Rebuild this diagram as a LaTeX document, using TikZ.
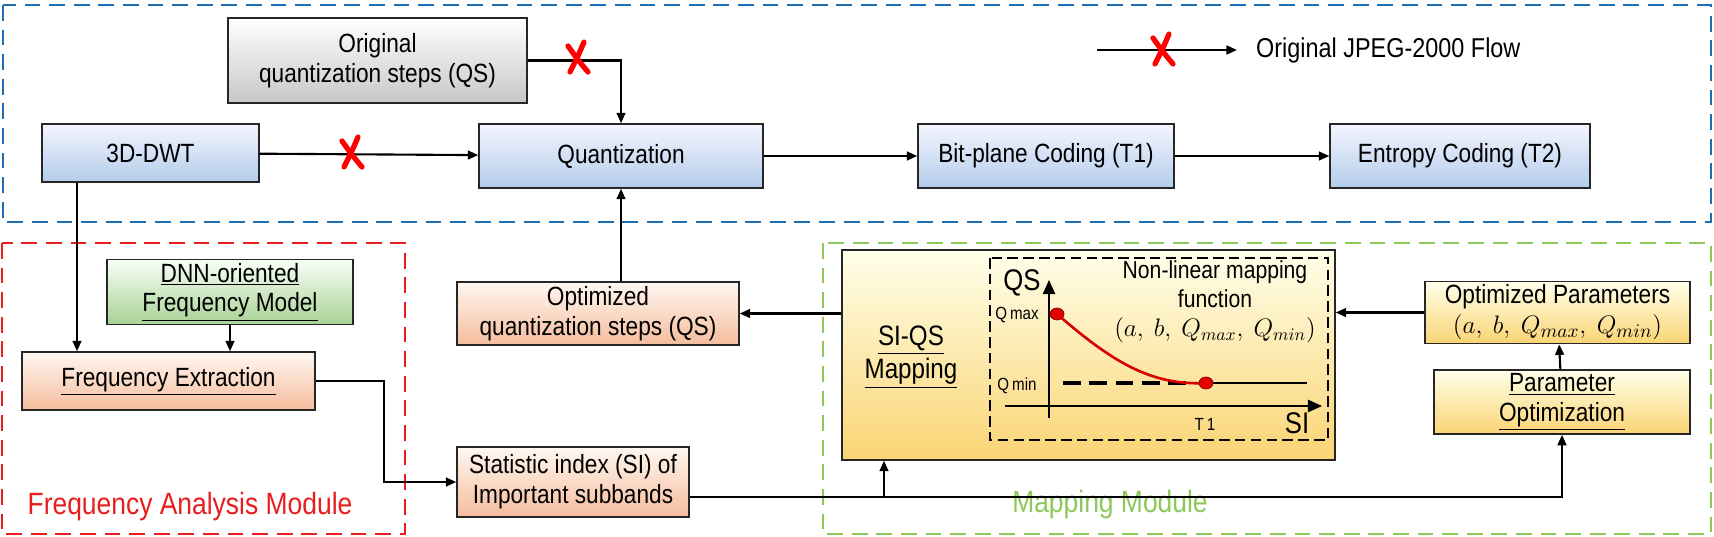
\documentclass[tikz,border=0pt]{standalone}
\usepackage{fontspec}
\setmainfont{Liberation Sans}[FakeStretch=0.86]
\usetikzlibrary{arrows.meta,calc}
\definecolor{bluebot}{RGB}{178,204,234}
\definecolor{orbot}{RGB}{245,188,158}
\definecolor{grbot}{RGB}{168,210,148}
\definecolor{yebot}{RGB}{250,212,115}
\definecolor{dblue}{RGB}{30,110,180}
\definecolor{dred}{RGB}{230,30,30}
\definecolor{dgreen}{RGB}{140,200,90}
\tikzset{
  box/.style={draw=black!85, line width=0.8pt, inner sep=2pt, align=center, font=\fontsize{15}{17}\selectfont},
  bl/.style={box, top color=blue!4, bottom color=bluebot},
  orr/.style={box, top color=orange!6, bottom color=orbot},
  gr/.style={box, top color=green!3, bottom color=grbot},
  ye/.style={box, top color=yellow!8, bottom color=yebot},
  gy/.style={box, top color=white, bottom color=black!22},
  con/.style={line width=1.2pt, -{Triangle[length=6pt,width=5pt]}},
  region/.style={dashed, line width=1.3pt, dash pattern=on 9pt off 5pt},
  xmark/.style={red, line width=3pt, line cap=round}
}
\newcommand{\xmk}[1]{\draw[xmark] ($#1+(-8,14)$) .. controls ($#1+(0,-2)$) .. ($#1+(6,-16)$);
  \draw[xmark] ($#1+(-10,-12)$) .. controls ($#1+(0,2)$) .. ($#1+(10,14)$);}
\begin{document}
\begin{tikzpicture}[x=0.02cm,y=-0.02cm]
\useasboundingbox (0,0) rectangle (1714,537);
% regions
\draw[region, dblue] (3,5) rectangle (1711,222);
\draw[region, dred] (2,243) rectangle (405,534);
\draw[region, dgreen] (823,243) rectangle (1711,534);
\node[dred, font=\fontsize{17.5}{20}\selectfont] (fam) at (190,507) {Frequency Analysis Module};
\node[dgreen, font=\fontsize{17.5}{20}\selectfont] (mm) at (1110,505) {Mapping Module};
% boxes
\node[gy, minimum width=5.98cm, minimum height=1.7cm] (oqs) at (377.5,60.5) {Original\\quantization steps (QS)};
\node[bl, minimum width=4.34cm, minimum height=1.16cm] (dwt) at (150.5,153) {3D-DWT};
\node[bl, minimum width=5.68cm, minimum height=1.28cm] (quant) at (621,156) {Quantization};
\node[bl, minimum width=5.12cm, minimum height=1.28cm] (bpc) at (1046,156) {Bit-plane Coding (T1)};
\node[bl, minimum width=5.2cm, minimum height=1.28cm] (ent) at (1460,156) {Entropy Coding (T2)};
\node[gr, minimum width=4.92cm, minimum height=1.2cm] (dnn) at (230,292) {\underline{DNN-oriented}\\\underline{Frequency Model}};
\node[orr, minimum width=5.86cm, minimum height=1.16cm] (fex) at (168.5,381) {\underline{Frequency Extraction}};
\node[orr, minimum width=5.64cm, minimum height=1.26cm] (oqs2) at (598,313.5) {Optimized\\quantization steps (QS)};
\node[orr, minimum width=4.64cm, minimum height=1.4cm] (stat) at (573,482) {Statistic index (SI) of\\Important subbands};
\node[ye, minimum width=9.86cm, minimum height=4.2cm] (siqs) at (1088.5,355) {};
\node[font=\fontsize{16}{19}\selectfont, align=center] (siqsl) at (911,357) {\underline{SI-QS}\\\underline{Mapping}};
\node[ye, minimum width=5.3cm, minimum height=1.22cm] (opar) at (1557.5,312.5) {Optimized Parameters\\$(a,\ b,\ Q_{max},\ Q_{min})$};
\node[ye, minimum width=5.12cm, minimum height=1.2cm] (popt) at (1562,402) {\underline{Parameter}\\\underline{Optimization}};
% inner graph
\draw[dashed, line width=1.5pt, dash pattern=on 6pt off 3pt] (990,258) rectangle (1328,440);
\draw[line width=0.9pt, -{Triangle[length=8pt,width=7pt]}] (1049,418) -- (1049,280);
\draw[line width=0.9pt, -{Triangle[length=8pt,width=7pt]}] (1005,406) -- (1322,406);
\draw[line width=2.5pt, dash pattern=on 10pt off 5pt] (1063,383) -- (1190,383);
\draw[line width=0.8pt] (1206,383) -- (1307,383);
\draw[red!85!black, line width=1.5pt] (1057,314) .. controls (1110,360) and (1150,386) .. (1206,383);
\fill[red!90!black, draw=red!50!black] (1057,314) ellipse (7 and 6);
\fill[red!90!black, draw=red!50!black] (1206,383) ellipse (7 and 6);
\node[font=\fontsize{17}{19}\selectfont] (qsl) at (1022,283) {QS};
\node[font=\fontsize{10}{12}\selectfont] (qmax) at (1017,315) {Q\,max};
\node[font=\fontsize{10}{12}\selectfont] (qmin) at (1017,386) {Q\,min};
\node[font=\fontsize{10}{12}\selectfont] (t1) at (1205,424) {T\,1};
\node[font=\fontsize{17}{19}\selectfont] (sil) at (1297,423) {SI};
\node[font=\fontsize{14}{16.5}\selectfont, align=center] (nlm) at (1215,302) {Non-linear mapping\\function\\$(a,\ b,\ Q_{max},\ Q_{min})$};
% legend
\coordinate (l1) at (1097,50);
\coordinate (l2) at (1237,50);
\draw[con] (l1) -- (l2);
\node[anchor=west, font=\fontsize{15.5}{18}\selectfont] (lt) at (1250,50) {Original JPEG-2000 Flow};
% connectors
\draw[con] (dwt) -- (quant);
\draw[con] (oqs.east) -| (quant.north);
\draw[con] (quant) -- (bpc);
\draw[con] (bpc) -- (ent);
\draw[con] (oqs2.north -| quant) -- (quant.south);
\draw[con] (dwt.south -| 77,0) -- (fex.north -| 77,0);
\draw[con] (dnn) -- (fex.north -| dnn);
\draw[con] (fex.east) -- (384,381) |- (stat.west);
\coordinate (j) at (884,497);
\draw[con] ([yshift=-0.3cm]stat.east) -| (popt.south);
\draw[con] (j) -- (siqs.south -| j);
\draw[con] (popt) -- (opar);
\draw[con] (opar) -- (siqs.east |- opar);
\draw[con] (siqs.west |- oqs2) -- (oqs2);
% X marks
\xmk{(578,58)}
\xmk{(352,153)}
\xmk{(1163,50)}
\end{tikzpicture}
\end{document}
